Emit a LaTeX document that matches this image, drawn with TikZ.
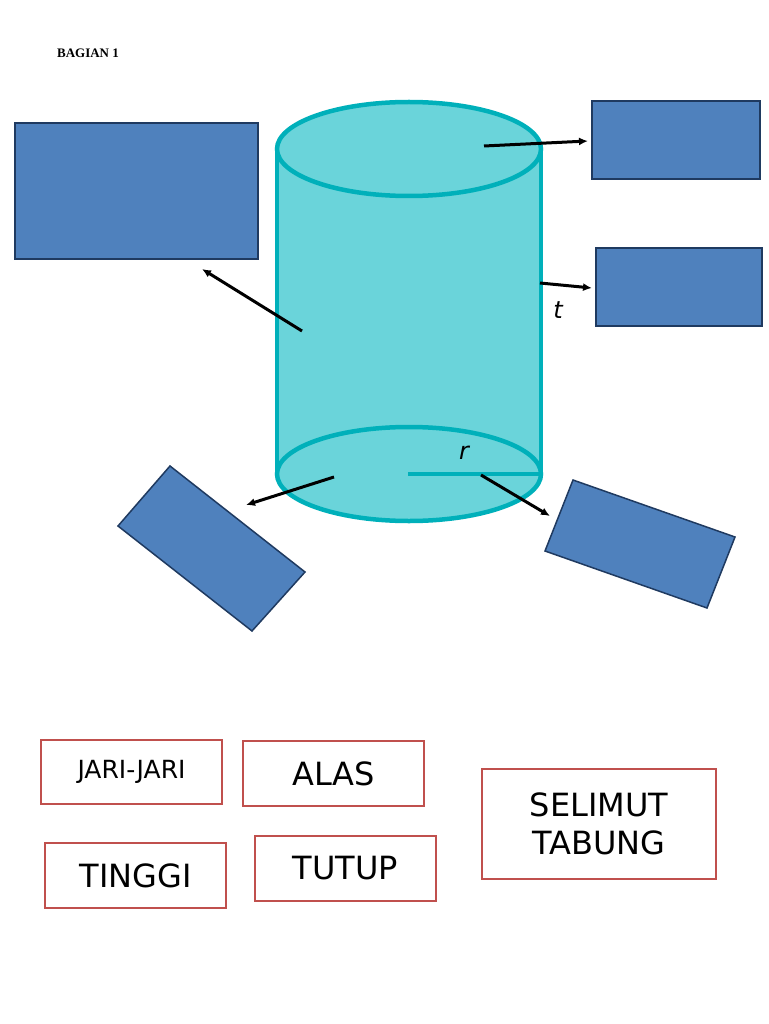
\documentclass[tikz,border=0pt]{standalone}
\usepackage{fontspec}
\setmainfont{DejaVu Sans}
\newfontfamily\serifb{Liberation Serif}
\usetikzlibrary{arrows.meta}
\begin{document}
\begin{tikzpicture}[x=1pt,y=-1pt,
 arr/.style={-{Latex[length=9pt,width=8pt]},line width=3pt}]
\definecolor{bfill}{HTML}{4F81BD}\definecolor{bdraw}{HTML}{1F3A60}
\definecolor{cfill}{HTML}{6AD4DA}\definecolor{cdraw}{HTML}{00B0BA}
\definecolor{rdraw}{HTML}{C0504D}
\useasboundingbox (0,0) rectangle (768,1024);
\node[font=\serifb\bfseries\fontsize{13}{15}\selectfont] (title) at (88,53) {BAGIAN 1};
% cylinder
\fill[cfill] (409,474) ellipse[x radius=132,y radius=47];
\fill[cfill] (277,149) rectangle (541,474);
\draw[cdraw,line width=4.5pt] (409,474) ellipse[x radius=132,y radius=47];
\draw[cdraw,line width=4.5pt,fill=cfill] (409,149) ellipse[x radius=132,y radius=47];
\draw[cdraw,line width=4.5pt] (277,149) -- (277,474) (541,149) -- (541,474);
\draw[cdraw,line width=4pt] (408,474) -- (540,474);
\node[font=\itshape\fontsize{24}{26}\selectfont] (t) at (558,310) {t};
\node[font=\itshape\fontsize{24}{26}\selectfont] (r) at (464,453) {r};
% blue boxes
\tikzset{bb/.style={draw=bdraw,fill=bfill,line width=1.5pt}}
\draw[bb] (15,123) rectangle (258,259);
\draw[bb] (592,101) rectangle (760,179);
\draw[bb] (596,248) rectangle (762,326);
\draw[bb] (170,466) -- (305,572) -- (252,631) -- (118,526) -- cycle;
\draw[bb] (573,480) -- (735,537) -- (707,608) -- (545,551) -- cycle;
% arrows
\coordinate (a1) at (484,146); \coordinate (b1) at (588,141);
\coordinate (a2) at (540,283); \coordinate (b2) at (592,288);
\coordinate (a3) at (302,331); \coordinate (b3) at (202,269);
\coordinate (a4) at (334,477); \coordinate (b4) at (246,505);
\coordinate (a5) at (481,475); \coordinate (b5) at (550,516);
\foreach \i in {1,...,5} \draw[arr] (a\i) -- (b\i);
% labels
\tikzset{lb/.style={draw=rdraw,line width=1.3pt,align=center,inner sep=0pt}}
\node[lb,minimum width=181,minimum height=64,font=\fontsize{25}{27}\selectfont] (jari) at (131.5,772) {JARI-JARI};
\node[lb,minimum width=181,minimum height=65,font=\fontsize{32}{34}\selectfont] (alas) at (333.5,773.5) {ALAS};
\node[lb,minimum width=234,minimum height=110,font=\fontsize{32}{38}\selectfont] (sel) at (599,824) {SELIMUT\\TABUNG};
\node[lb,minimum width=181,minimum height=65,font=\fontsize{32}{34}\selectfont] (tinggi) at (135.5,875.5) {TINGGI};
\node[lb,minimum width=181,minimum height=65,font=\fontsize{32}{34}\selectfont] (tutup) at (345.5,868.5) {TUTUP};
\end{tikzpicture}
\end{document}
